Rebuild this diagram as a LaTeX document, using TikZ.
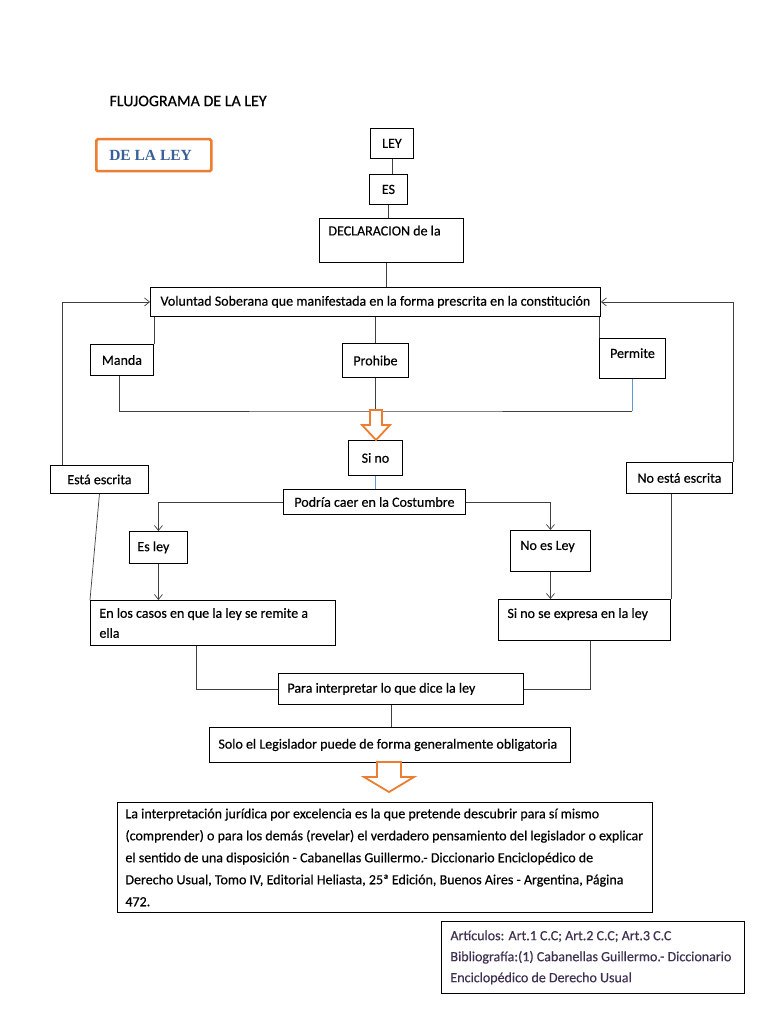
\documentclass[tikz,border=0pt]{standalone}
\usepackage{fontspec}
\setmainfont{Carlito}[FakeBold=0.4]
\newfontfamily\serifbold{Liberation Serif}
\usetikzlibrary{arrows.meta}
\definecolor{naranja}{RGB}{237,125,49}
\definecolor{azultitulo}{RGB}{58,96,152}
\definecolor{azullinea}{RGB}{91,155,213}
\definecolor{morado}{RGB}{64,49,82}

\begin{document}
\begin{tikzpicture}[x=1pt,y=-1pt,
  every node/.style={font=\fontsize{14}{20}\selectfont},
  box/.style={draw=black,line width=0.9pt,anchor=north west,inner sep=0pt,align=center},
  lbox/.style={box,align=flush left},
  link/.style={draw=black!75,line width=0.7pt},
  flecha/.style={link,-{Straight Barb[length=5pt,width=8pt]}},
  hueca/.style={draw=naranja,line width=1.8pt,fill=white,line join=miter}]
  \useasboundingbox[fill=white] (0,0) rectangle (768,1024);

  \node[anchor=west,font=\fontsize{16}{18}\selectfont] (titulo) at (106,101) {FLUJOGRAMA DE LA LEY};
  \node[box,draw=naranja,line width=2.5pt,rounded corners=1.5pt,minimum height=32,
    text width=89,inner xsep=13,align=flush left,text=azultitulo,
    font=\serifbold\bfseries\fontsize{15.5}{18}\selectfont] (delaley) at (95,138) {DE LA LEY};

  \node[box,minimum width=43,minimum height=30] (ley) at (370,128) {LEY};
  \node[box,minimum width=38,minimum height=30] (es) at (369,174) {ES};
  \node[lbox,text width=126,inner xsep=9,text height=17,text depth=27] (declaracion) at (319,218) {DECLARACION de la};
  \node[box,minimum width=450,minimum height=29] (voluntad) at (150,287) {Voluntad Soberana que manifestada en la forma prescrita en la constitución};
  \node[box,minimum width=63,minimum height=31] (manda) at (90,344) {Manda};
  \node[box,minimum width=66,minimum height=34] (prohibe) at (342,343) {Prohibe};
  \node[box,minimum width=66,text height=19.5,text depth=20.5] (permite) at (599,338) {Permite};
  \node[box,minimum width=54,minimum height=35] (sino) at (348,440) {Si no};
  \node[box,minimum width=98,minimum height=28] (escrita) at (50,465) {Está escrita};
  \node[box,minimum width=106,minimum height=31] (noescrita) at (626,462) {No está escrita};
  \node[box,minimum width=182,minimum height=25] (podria) at (283,489) {Podría caer en la Costumbre};
  \node[lbox,text width=42,inner xsep=8,minimum height=32] (esley) at (129,531) {Es ley};
  \node[lbox,text width=60,inner xsep=10,text height=19.5,text depth=21.5] (noesley) at (510,530) {No es Ley};
  \node[lbox,text width=227,inner xsep=9,minimum height=45] (casos) at (90,600) {En los casos en que la ley se remite a\\ella};
  \node[lbox,text width=154,inner xsep=9,text height=18.5,text depth=22.5] (expresa) at (498,599) {Si no se expresa en la ley};
  \node[lbox,text width=227,inner xsep=9,minimum height=31] (para) at (278,673) {Para interpretar lo que dice la ley};
  \node[lbox,text width=343,inner xsep=9,minimum height=35] (solo) at (209,727) {Solo el Legislador puede de forma generalmente obligatoria};
  \node[lbox,text width=519,inner xsep=8,minimum height=110,font=\fontsize{14}{22}\selectfont] (cita) at (117,802)
    {\mbox{La interpretación jurídica por excelencia es la que pretende descubrir para sí mismo}\\
     \mbox{(comprender) o para los demás (revelar) el verdadero pensamiento del legislador o explicar}\\
     \mbox{el sentido de una disposición - Cabanellas Guillermo.- Diccionario Enciclopédico de}\\
     \mbox{Derecho Usual, Tomo IV, Editorial Heliasta, 25ª Edición, Buenos Aires - Argentina, Página}\\
     472.};
  \node[lbox,text width=285,inner xsep=9,minimum height=72,text=morado,font=\fontsize{14}{21}\selectfont] (refs) at (441,921)
    {Artículos: Art.1 C.C; Art.2 C.C; Art.3 C.C\\
     Bibliografía:(1) Cabanellas Guillermo.- Diccionario\\
     Enciclopédico de Derecho Usual};

  \coordinate (bus) at (376,411);

  \draw[link] (ley.south) -- (ley.south |- es.north);
  \draw[link] (es.south) -- (es.south |- declaracion.north);
  \draw[link] ([xshift=-5]declaracion.south) -- ([xshift=-5]declaracion.south |- voluntad.north);
  \draw[link] (manda.north east) -- (manda.north east |- voluntad.south);
  \draw[link] (prohibe.north) -- (prohibe.north |- voluntad.south);
  \draw[link] (permite.north west) -- (permite.north west |- voluntad.south);
  \draw[link] ([xshift=-3]manda.south) |- (bus) -- (bus -| permite.south);
  \draw[link] (prohibe.south) -- (prohibe.south |- bus);
  \draw[draw=azullinea,line width=0.7pt] (permite.south) -- (permite.south |- bus);
  \draw[hueca] (370,410) -- (382,410) -- (382,425) -- (390,425) -- (376,440) -- (362,425) -- (370,425) -- cycle;

  \draw[draw=azullinea,line width=0.7pt] (sino.south) -- (sino.south |- podria.north);
  \draw[flecha] ([xshift=12]escrita.north west) |- (voluntad.west);
  \draw[flecha] (noescrita.north east) |- (voluntad.east);
  \draw[flecha] (podria.west) -| (esley.north);
  \draw[flecha] (podria.east) -| (noesley.north);
  \draw[flecha] (esley.south) -- (esley.south |- casos.north);
  \draw[flecha] (noesley.south) -- (noesley.south |- expresa.north);
  \draw[link] (escrita.south) -- (casos.north west);
  \draw[link] (expresa.north east |- noescrita.south) -- (expresa.north east);
  \draw[link] ([xshift=-17]casos.south) |- (para.west);
  \draw[link] ([xshift=6]expresa.south) |- (para.east);
  \draw[link] ([xshift=-10]para.south) -- ([xshift=-10]para.south |- solo.north);
  \draw[hueca] (377,762) -- (401,762) -- (401,777) -- (414,777) -- (389,792) -- (364,777) -- (377,777) -- cycle;
\end{tikzpicture}
\end{document}
